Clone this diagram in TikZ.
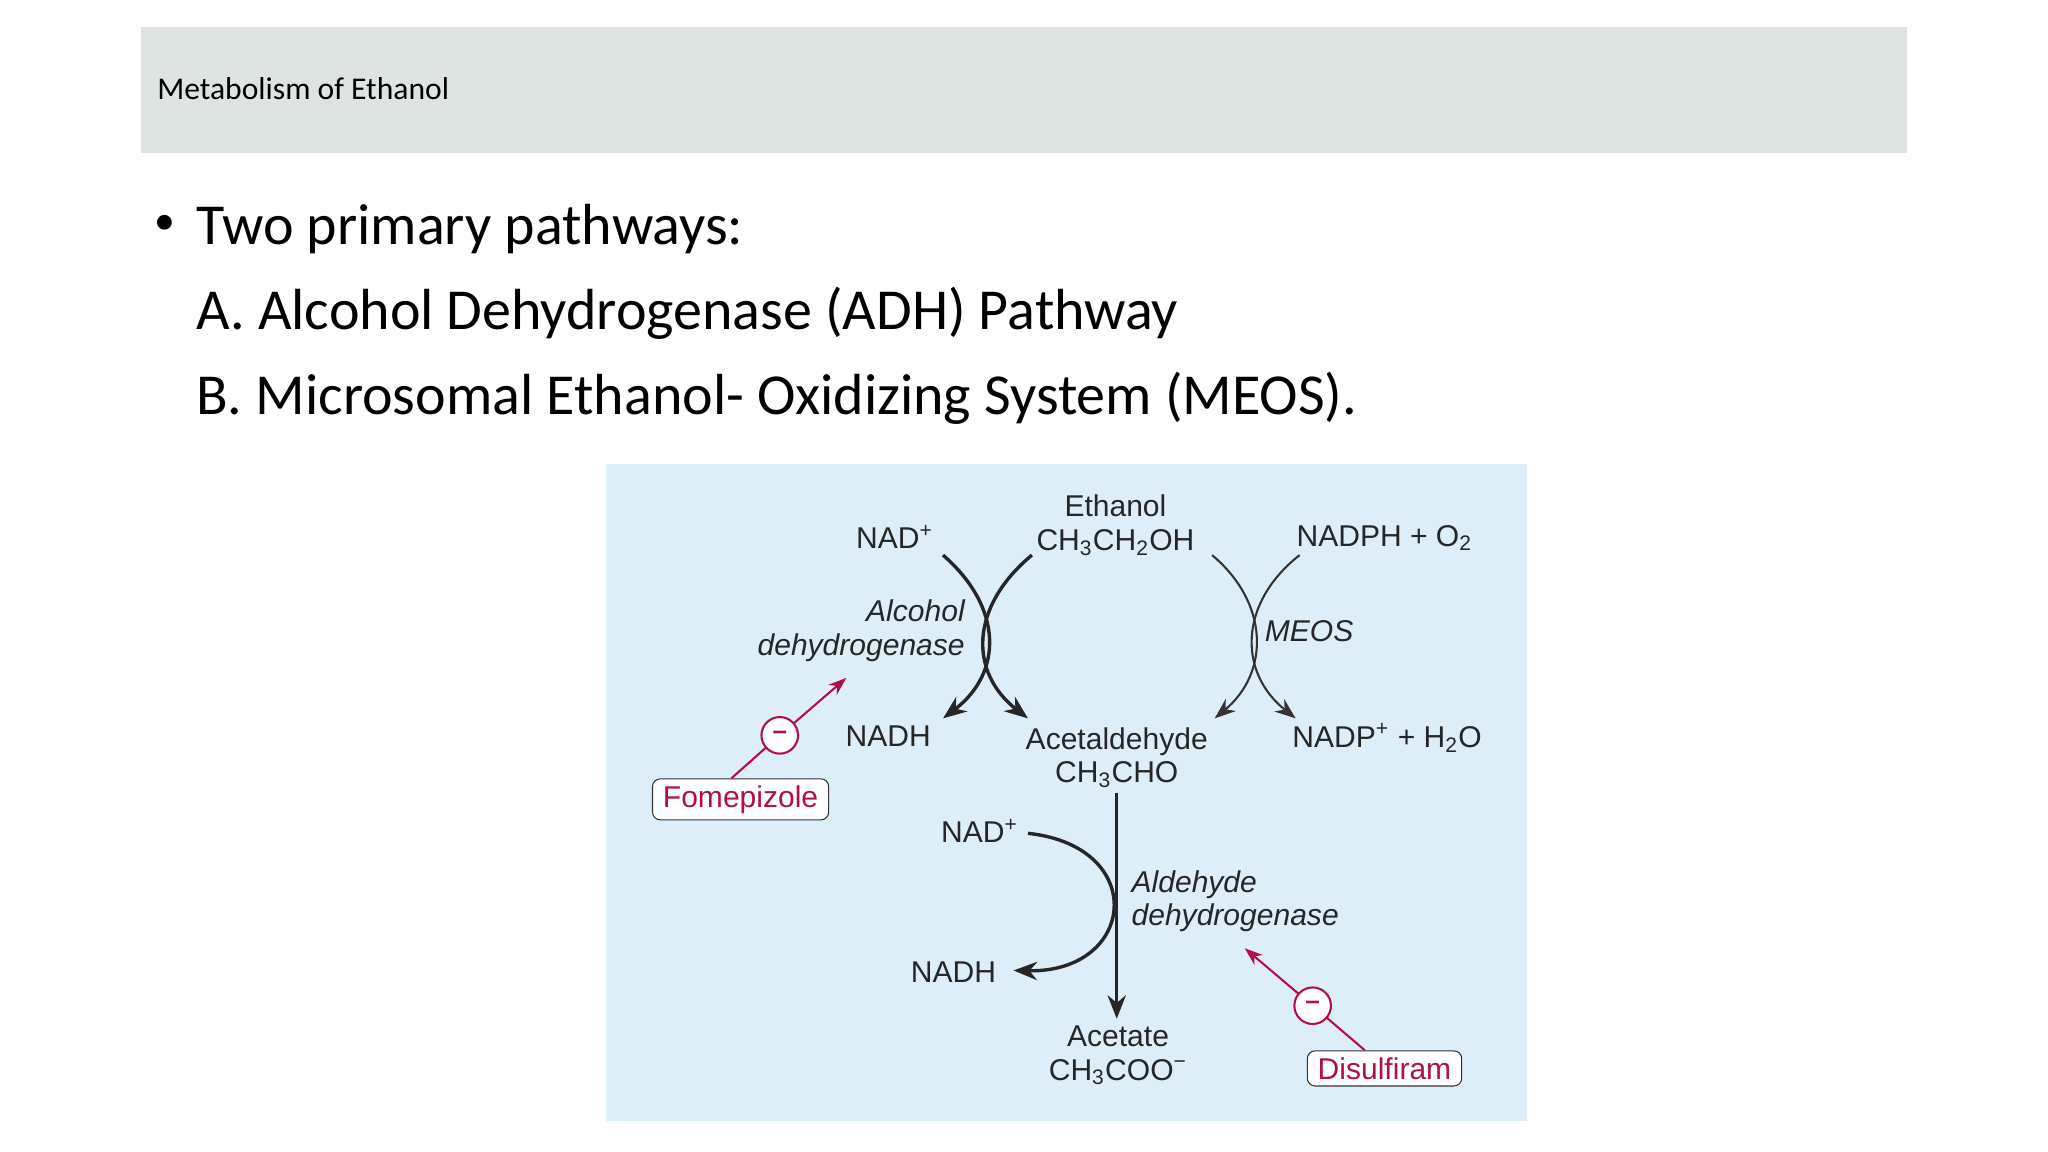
\documentclass[tikz,border=0pt]{standalone}
\usepackage{fontspec}
\setmainfont{Carlito}
\newfontfamily\diag{Liberation Sans}
\usetikzlibrary{arrows.meta}
\definecolor{hdr}{HTML}{DEE4E2}
\definecolor{panel}{HTML}{DDEEF9}
\definecolor{inh}{HTML}{B0104A}
\newcommand{\sps}[1]{\textsuperscript{#1}}
\begin{document}
\begin{tikzpicture}[x=0.5pt,y=-0.5pt,
  lab/.style={font=\diag\fontsize{11.5}{13}\selectfont,text=black!85,inner sep=0pt,align=center},
  enz/.style={lab,font=\diag\itshape\fontsize{11.5}{13}\selectfont},
  rx/.style={-{Stealth[length=9pt,width=7pt]},line width=1.3pt,black!85},
  rxt/.style={-{Stealth[length=8pt,width=6pt]},line width=0.8pt,black!80},
  inhib/.style={-{Stealth[length=7pt,width=5pt]},line width=0.8pt,inh},
  drug/.style={lab,text=inh,draw=black!80,rounded corners=3pt,inner xsep=4pt,inner ysep=2.5pt,fill=white},
  minus/.style={circle,draw=inh,fill=white,line width=0.8pt,minimum size=14pt,inner sep=0pt,text=inh,font=\diag\bfseries},
  blt/.style={anchor=west,inner sep=0pt,font=\fontsize{22.2}{26}\selectfont}]
\useasboundingbox (0,0) rectangle (1568,882);
\fill[white] (0,0) rectangle (1568,882);
\fill[hdr] (108,21) rectangle (1460,117);
\node[anchor=west,inner sep=0pt,font=\fontsize{12.1}{14}\selectfont] (title) at (120,68) {Metabolism of Ethanol};
\node[blt] (dot) at (118,172) {\fontsize{16}{16}\selectfont\textbullet};
\node[blt] (b0) at (150,175) {Two primary pathways:};
\node[blt] (b1) at (150,240) {A. Alcohol Dehydrogenase (ADH) Pathway};
\node[blt] (b2) at (150,305) {B. Microsomal Ethanol- Oxidizing System (MEOS).};
\fill[panel] (464,355) rectangle (1169,858);
% labels
\node[lab] (eth) at (854,402) {Ethanol\\CH\textsubscript{3}CH\textsubscript{2}OH};
\node[lab] (nad1) at (685,411) {NAD\sps{+}};
\node[lab] (nadph) at (1060,412) {NADPH + O\textsubscript{2}};
\node[enz,align=right,anchor=east] (adh) at (739,483) {Alcohol\\dehydrogenase};
\node[enz,anchor=west] (meos) at (968,483) {MEOS};
\node[lab] (nadh1) at (680,564) {NADH};
\node[lab] (acet) at (855,580) {Acetaldehyde\\CH\textsubscript{3}CHO};
\node[lab] (nadp) at (1062,565) {NADP\sps{+} + H\textsubscript{2}O};
\node[lab] (nad2) at (750,636) {NAD\sps{+}};
\node[lab] (nadh2) at (730,744) {NADH};
\node[enz,align=left,anchor=west] (aldh) at (866,690) {Aldehyde\\dehydrogenase};
\node[lab] (acetate) at (856,808) {Acetate\\CH\textsubscript{3}COO\sps{\textminus}};
\node[drug] (fom) at (567,612) {Fomepizole};
\node[drug] (dis) at (1060,818) {Disulfiram};
\coordinate (m1) at (597,563);
\coordinate (m2) at (1005,770);
\coordinate (a1) at (722,425); \coordinate (a2) at (722,550);
\coordinate (e1) at (790,425); \coordinate (e2) at (787,550);
\coordinate (c1) at (928,425); \coordinate (c2) at (930,550);
\coordinate (d1) at (995,425); \coordinate (d2) at (992,550);
\coordinate (fa) at (648,519); \coordinate (da) at (953,726);
\coordinate (ald1) at (855,607); \coordinate (ald2) at (855,780);
\coordinate (n2s) at (787,638); \coordinate (n2e) at (776,743);
% ADH
\draw[rx] (a1) .. controls (768,465) and (768,515) .. (a2);
\draw[rx] (e1) .. controls (742,465) and (742,515) .. (e2);
% MEOS
\draw[rxt] (c1) .. controls (972,462) and (972,515) .. (c2);
\draw[rxt] (d1) .. controls (948,462) and (948,515) .. (d2);
% ALDH
\draw[rx] (ald1) -- (ald2);
\draw[rx] (n2s) .. controls (880,648) and (870,745) .. (n2e);
% inhibitors
\draw[inhib] (fom.north -| 560,0) -- (m1) -- (fa);
\draw[inhib] (dis.north -| 1045,0) -- (m2) -- (da);
\node[minus] (mi1) at (m1) {\textendash};
\node[minus] (mi2) at (m2) {\textendash};
\end{tikzpicture}
\end{document}
